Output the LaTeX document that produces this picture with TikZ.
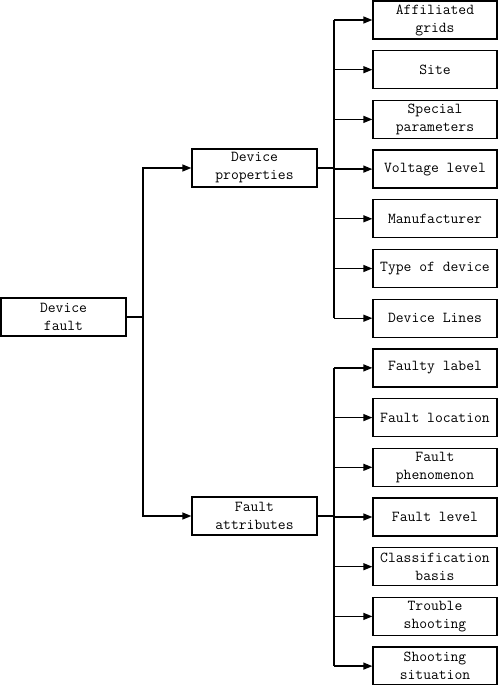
\documentclass[tikz,border=0pt]{standalone}
\usepackage{fontspec}
\usetikzlibrary{arrows.meta}
\tikzset{
  box/.style={draw,line width=1.3pt,minimum height=38pt,align=center,inner sep=1pt,
    font=\ttfamily\fontsize{15.2}{18}\selectfont},
  leaf/.style={box,minimum width=124pt},
  mid/.style={box,minimum width=125pt}
}
\begin{document}
\begin{tikzpicture}[x=1pt,y=-1pt,>={Triangle[length=9pt,width=7pt]},line width=1.3pt]
            \useasboundingbox (0,0) rectangle (500,685);
            \node[box,minimum width=125pt] (fault) at (63.5,317) {Device\\fault};
            \node[mid] (prop) at (254.5,168) {Device\\properties};
            \node[mid] (attr) at (254.5,516) {Fault\\attributes};
            % right hand column
            \foreach \t [count=\i from 0] in {Affiliated\\grids,Site,Special\\parameters,Voltage level,
                Manufacturer,Type of device,Device Lines,Faulty label,Fault location,Fault\\phenomenon,
                Fault level,Classification\\basis,Trouble\\shooting,Shooting\\situation}
              \node[leaf] (c\i) at (435,{20+49.7*\i}) {\t};
            % root to groups
            \coordinate (j0) at (143,317);
            \draw (fault.east) -- (j0);
            \draw[->] (j0) |- (prop.west);
            \draw[->] (j0) |- (attr.west);
            % groups to leaves
            \coordinate (j1) at (334,168);
            \coordinate (j2) at (334,516);
            \draw (prop.east) -- (j1);
            \draw (attr.east) -- (j2);
            \draw (j1 |- c0) -- (j1 |- c6);
            \draw (j2 |- c7) -- (j2 |- c13);
            \foreach \i in {0,...,6} \draw[->] (j1 |- c\i) -- (c\i.west);
            \foreach \i in {7,...,13} \draw[->] (j2 |- c\i) -- (c\i.west);
        \end{tikzpicture}
\end{document}
